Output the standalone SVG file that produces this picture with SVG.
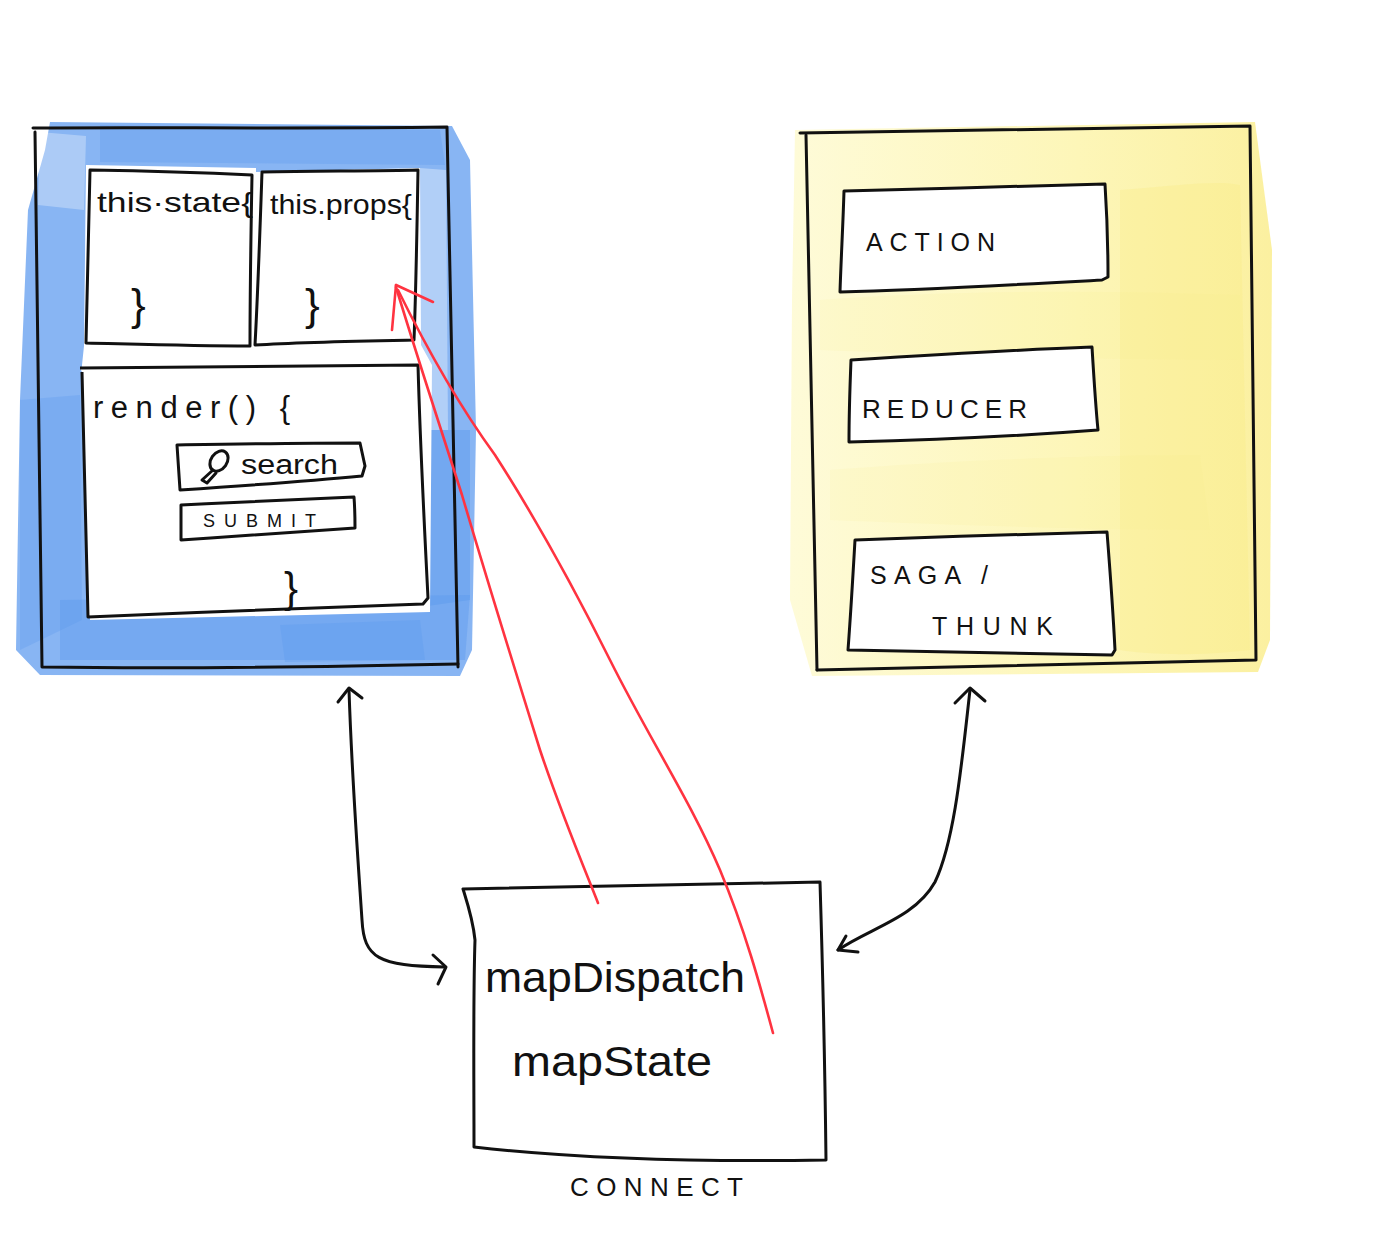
<svg xmlns="http://www.w3.org/2000/svg" width="1400" height="1238" viewBox="0 0 1400 1238">
<defs>
<style>
.ink{fill:none;stroke:#111;stroke-width:3;stroke-linecap:round;stroke-linejoin:round}
.red{fill:none;stroke:#ff3340;stroke-width:2.6;stroke-linecap:round;stroke-linejoin:round}
.box{fill:#fff;stroke:#111;stroke-width:3;stroke-linejoin:round}
.hw{font-family:"Liberation Sans","DejaVu Sans",sans-serif;fill:#111}
.caps{font-family:"Liberation Sans","DejaVu Sans",sans-serif;fill:#111;letter-spacing:5px}
.wash{fill:#5a98ee}
.ywash{fill:#f8ec80}
</style>
<linearGradient id="yel" x1="0" y1="0" x2="1" y2="0">
<stop offset="0" stop-color="#fefbd8"/>
<stop offset="0.6" stop-color="#fdf6b8"/>
<stop offset="1" stop-color="#fbf0a0"/>
</linearGradient>
</defs>
<rect width="1400" height="1238" fill="#fff"/>

<g id="component">
<path class="wash" opacity="0.72" d="M50,122 L452,126 L470,160 L476,430 L472,650 L460,676 L40,675 L16,650 L20,400 L28,210 L45,150 Z"/>
<path class="wash" opacity="0.3" d="M20,400 L80,395 L82,620 L20,650 Z"/>
<path class="wash" opacity="0.45" d="M400,430 L470,430 L470,600 L400,610 Z"/>
<path class="wash" opacity="0.4" d="M60,600 L470,595 L465,660 L60,660 Z"/>
<path class="wash" opacity="0.3" d="M100,125 L440,130 L445,165 L100,162 Z"/>
<path class="wash" opacity="0.3" d="M280,625 L420,620 L425,660 L285,662 Z"/>
<path d="M86,165 L256,168 L256,172 L420,168 L421,345 L432,365 L430,612 L90,620 L82,365 L84,346 Z" fill="#fff"/>
<path d="M40,132 L86,136 L84,210 L38,205 Z" fill="#fff" opacity="0.3"/>
<path d="M420,168 L446,170 L448,430 L420,430 Z" fill="#fff" opacity="0.35"/>
<path class="ink" d="M33,128 C150,127 300,129 447,127 C450,300 454,480 458,667"/>
<path class="ink" d="M35,132 C37,300 40,480 42,667 C180,669 320,667 458,664"/>
<path class="box" d="M90,170 C150,171 210,173 252,175 C251,230 250,290 250,346 C190,346 130,344 86,343 C87,280 89,220 90,170 Z"/>
<path class="box" d="M262,172 C320,171 380,171 418,170 C417,230 416,290 414,340 C360,341 300,342 255,345 C258,290 260,230 262,172 Z"/>
<path class="box" d="M80,368 C200,367 320,366 418,365 C420,440 424,520 428,598 L423,604 C320,608 200,612 88,617 C86,540 84,450 82,372"/>
<text class="hw" x="97" y="212" font-size="28" textLength="156" lengthAdjust="spacingAndGlyphs">this·state{</text>
<text class="hw" x="270" y="214" font-size="28" textLength="142" lengthAdjust="spacingAndGlyphs">this.props{</text>
<text class="hw" x="131" y="320" font-size="44">}</text>
<text class="hw" x="305" y="320" font-size="44">}</text>
<text class="hw" x="93" y="418" font-size="31" textLength="197" lengthAdjust="spacing">render() {</text>
<path class="box" d="M177,445 C240,444 300,443 360,443 L365,466 L362,476 C300,482 240,486 180,490 C179,475 178,460 177,445 Z"/>
<ellipse cx="219" cy="461" rx="8" ry="11" transform="rotate(35 219 461)" class="ink" stroke-width="2.6"/>
<path class="ink" stroke-width="2.6" d="M213,470 L202,480 L207,483 L216,473"/>
<text class="hw" x="241" y="474" font-size="27" textLength="97" lengthAdjust="spacingAndGlyphs">search</text>
<path class="box" d="M181,505 C240,502 300,499 354,497 C355,510 355,520 355,528 C300,532 240,536 181,540 C181,528 181,515 181,505 Z"/>
<text class="caps" x="203" y="527" font-size="18" textLength="118" lengthAdjust="spacing">SUBMIT</text>
<text class="hw" x="284" y="602" font-size="42">}</text>
</g>

<g id="store">
<path d="M795,130 L1255,122 L1272,250 L1270,640 L1258,672 L812,676 L790,600 L792,300 Z" fill="url(#yel)"/>
<path class="ywash" opacity="0.3" d="M1120,190 C1180,185 1220,180 1240,185 L1250,650 C1200,656 1150,655 1120,650 Z"/>
<path class="ywash" opacity="0.12" d="M820,300 C950,290 1100,290 1240,295 L1240,360 C1100,360 950,355 820,350 Z"/>
<path class="ywash" opacity="0.1" d="M830,470 C950,460 1100,455 1200,455 L1210,530 C1100,530 950,525 830,520 Z"/>
<path class="ink" d="M800,133 C950,131 1100,129 1250,126 C1252,300 1254,480 1256,660 C1100,664 950,667 817,670"/>
<path class="ink" d="M806,135 C809,300 813,480 817,670"/>
<path class="box" d="M844,191 C930,189 1020,186 1105,184 C1107,215 1108,250 1108,277 L1102,280 C1010,285 920,290 840,292 C841,260 843,225 844,191 Z"/>
<text class="caps" x="866" y="251" font-size="25" textLength="134" lengthAdjust="spacing">ACTION</text>
<path class="box" d="M851,360 C930,355 1010,350 1092,347 C1094,380 1096,410 1098,430 C1020,436 930,440 849,442 C849,410 850,385 851,360 Z"/>
<text class="caps" x="862" y="418" font-size="26" textLength="170" lengthAdjust="spacing">REDUCER</text>
<path class="box" d="M855,540 C940,537 1020,534 1107,532 C1110,570 1113,610 1115,650 L1112,655 C1020,653 930,652 848,650 C851,610 853,575 855,540 Z"/>
<text class="caps" x="870" y="584" font-size="25" textLength="123" lengthAdjust="spacing">SAGA /</text>
<text class="caps" x="932" y="635" font-size="25" textLength="126" lengthAdjust="spacing">THUNK</text>
</g>

<g id="connect">
<path class="box" d="M463,889 C580,887 700,885 820,882 C823,980 825,1070 826,1160 C710,1162 590,1160 474,1147 C474,1080 473,1000 475,940 C473,920 468,905 463,889 Z"/>
<text class="hw" x="485" y="992" font-size="42" textLength="260" lengthAdjust="spacingAndGlyphs">mapDispatch</text>
<text class="hw" x="512" y="1076" font-size="42" textLength="200" lengthAdjust="spacingAndGlyphs">mapState</text>
<text class="caps" x="570" y="1196" font-size="26" textLength="178" lengthAdjust="spacing">CONNECT</text>
</g>

<g id="connectors">
<path class="ink" d="M349,690 C352,780 358,860 362,920 C364,958 378,966 445,967"/>
<path class="ink" d="M338,702 L349,688 L362,698"/>
<path class="ink" d="M433,955 L446,967 L438,984"/>
<path class="ink" d="M970,690 C962,760 955,840 935,882 C915,918 870,928 838,950"/>
<path class="ink" d="M955,703 L970,688 L985,701"/>
<path class="ink" d="M846,936 L838,950 L858,952"/>
<path class="red" d="M396,287 C415,350 438,420 462,495 C490,590 515,670 540,750 C560,810 585,870 598,903"/>
<path class="red" d="M398,290 C425,345 455,400 495,455 C540,525 575,590 610,660 C650,740 690,800 720,870 C745,930 760,985 773,1033"/>
<path class="red" d="M396,285 L392,330"/>
<path class="red" d="M396,285 L433,302"/>
</g>
</svg>
